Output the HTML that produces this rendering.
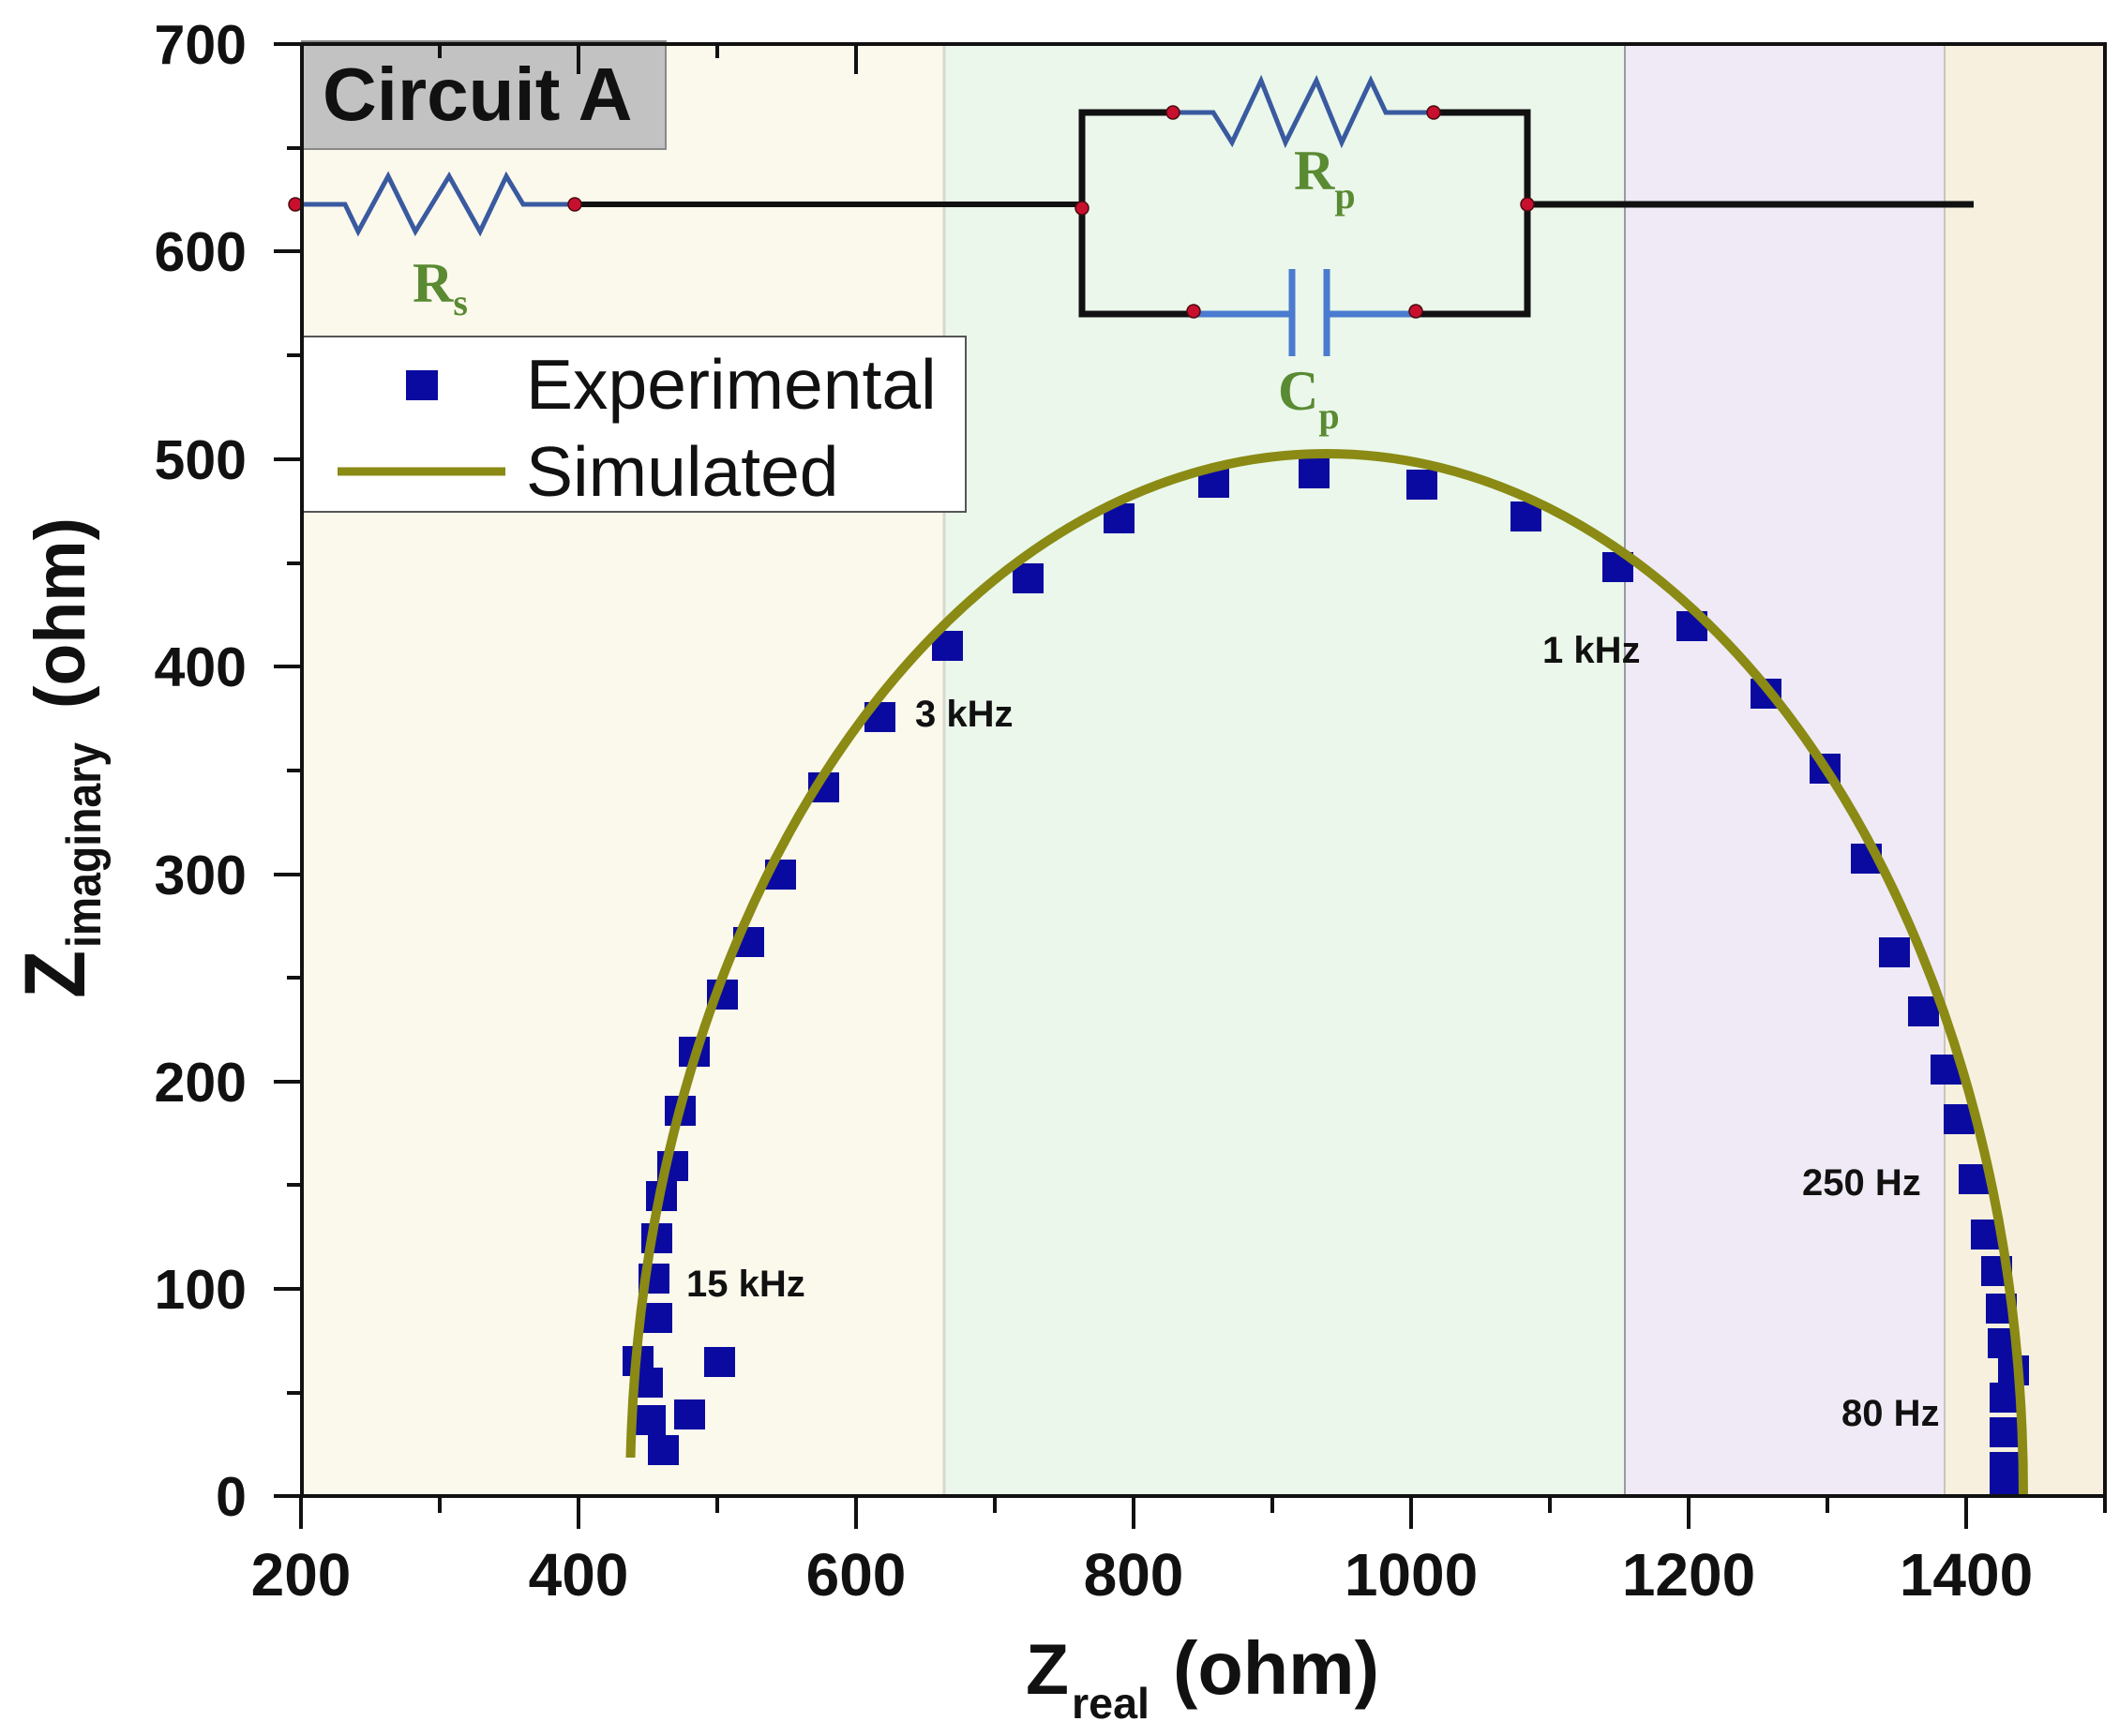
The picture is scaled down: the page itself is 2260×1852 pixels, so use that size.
<!DOCTYPE html>
<html><head><meta charset="utf-8"><style>
html,body{margin:0;padding:0;background:#fff;}
svg{display:block;}
</style></head><body>
<svg width="2260" height="1852" viewBox="0 0 2260 1852" xmlns="http://www.w3.org/2000/svg" font-family="'Liberation Sans', Arial, sans-serif">
<defs>
<clipPath id="cc"><rect x="0" y="0" width="1000" height="1555"/><rect x="1000" y="0" width="1260" height="1600"/></clipPath>
</defs>
<rect x="0" y="0" width="2260" height="1852" fill="#ffffff"/>
<rect x="322" y="47" width="685" height="1549" fill="#fbf8ec"/>
<rect x="1007" y="47" width="726" height="1549" fill="#eaf7ea"/>
<rect x="1733" y="47" width="341" height="1549" fill="#efeaf6"/>
<rect x="2074" y="47" width="171" height="1549" fill="#f7f0de"/>
<line x1="1007" y1="47" x2="1007" y2="1596" stroke="#d8d8d0" stroke-width="3"/>
<line x1="1733" y1="47" x2="1733" y2="1596" stroke="#9a9aa0" stroke-width="2"/>
<line x1="2074" y1="47" x2="2074" y2="1596" stroke="#c8c4c0" stroke-width="2"/>

<rect x="322" y="44" width="388" height="115" fill="#c2c2c2" stroke="#888" stroke-width="2"/>
<text x="344" y="128" font-size="80" font-weight="bold" fill="#111">Circuit A</text>

<g fill="none" stroke-linejoin="miter">
<line x1="613" y1="218" x2="1154" y2="218" stroke="#111" stroke-width="6"/>
<polyline points="1154,218 1154,120 1251,120" stroke="#111" stroke-width="7"/>
<polyline points="1529,120 1629,120 1629,335 1510,335" stroke="#111" stroke-width="7"/>
<polyline points="1154,218 1154,335 1273,335" stroke="#111" stroke-width="7"/>
<line x1="1629" y1="218" x2="2105" y2="218" stroke="#111" stroke-width="7"/>
<polyline points="315,218 368,218 382,247 414,188 443,247 479,188 512,247 540,188 558,218 613,218" stroke="#3a5aa0" stroke-width="5"/>
<polyline points="1251,120 1294,120 1314,152 1345,86 1371,152 1404,86 1431,152 1462,86 1478,120 1529,120" stroke="#3a5aa0" stroke-width="5"/>
<line x1="1273" y1="335" x2="1378" y2="335" stroke="#4a7bd0" stroke-width="7"/>
<line x1="1415" y1="335" x2="1510" y2="335" stroke="#4a7bd0" stroke-width="7"/>
<line x1="1378" y1="287" x2="1378" y2="380" stroke="#4a7bd0" stroke-width="7"/>
<line x1="1415" y1="287" x2="1415" y2="380" stroke="#4a7bd0" stroke-width="7"/>
</g>
<g fill="#c8102e" stroke="#4a0a10" stroke-width="1.5">
<circle cx="315" cy="218" r="7"/><circle cx="613" cy="218" r="7"/>
<circle cx="1154" cy="222" r="7"/><circle cx="1629" cy="218" r="7"/>
<circle cx="1251" cy="120" r="7"/><circle cx="1529" cy="120" r="7"/>
<circle cx="1273" cy="332" r="7"/><circle cx="1510" cy="332" r="7"/>
</g>
<g font-family="'Liberation Serif', serif" font-weight="bold" fill="#5a8a32">
<text x="440" y="322" font-size="60">R<tspan font-size="40" dy="14">s</tspan></text>
<text x="1380" y="202" font-size="60">R<tspan font-size="40" dy="20">p</tspan></text>
<text x="1363" y="437" font-size="60">C<tspan font-size="40" dy="20">p</tspan></text>
</g>

<rect x="322" y="359" width="708" height="187" fill="#ffffff" stroke="#555" stroke-width="2"/>
<rect x="433" y="395" width="34" height="32" fill="#0a0aa0"/>
<line x1="360" y1="503" x2="539" y2="503" stroke="#8a8a14" stroke-width="9"/>
<text x="561" y="436" font-size="75" fill="#111">Experimental</text>
<text x="561" y="529" font-size="75" fill="#111">Simulated</text>

<g fill="#0a0aa0">
<rect x="691" y="1531" width="33" height="32"/><rect x="677" y="1499" width="33" height="32"/>
<rect x="719" y="1493" width="33" height="32"/><rect x="664" y="1436" width="33" height="32"/>
<rect x="674" y="1459" width="33" height="32"/><rect x="751" y="1437" width="33" height="32"/>
<rect x="684" y="1390" width="33" height="32"/><rect x="681" y="1348" width="33" height="32"/>
<rect x="684" y="1305" width="33" height="32"/><rect x="689" y="1260" width="33" height="32"/>
<rect x="701" y="1228" width="33" height="32"/><rect x="709" y="1169" width="33" height="32"/>
<rect x="724" y="1106" width="33" height="32"/><rect x="754" y="1045" width="33" height="32"/>
<rect x="782" y="989" width="33" height="32"/><rect x="816" y="917" width="33" height="32"/>
<rect x="862" y="824" width="33" height="32"/><rect x="922" y="749" width="33" height="32"/>
<rect x="994" y="673" width="33" height="32"/><rect x="1080" y="601" width="33" height="32"/>
<rect x="1177" y="537" width="33" height="32"/><rect x="1278" y="499" width="33" height="32"/>
<rect x="1385" y="489" width="33" height="32"/><rect x="1500" y="501" width="33" height="32"/>
<rect x="1611" y="535" width="33" height="32"/><rect x="1709" y="589" width="33" height="32"/>
<rect x="1788" y="652" width="33" height="32"/><rect x="1867" y="724" width="33" height="32"/>
<rect x="1930" y="804" width="33" height="32"/><rect x="1974" y="900" width="33" height="32"/>
<rect x="2004" y="1000" width="33" height="32"/><rect x="2035" y="1063" width="33" height="32"/>
<rect x="2059" y="1125" width="33" height="32"/><rect x="2073" y="1178" width="33" height="32"/>
<rect x="2089" y="1242" width="33" height="32"/><rect x="2102" y="1301" width="33" height="32"/>
<rect x="2113" y="1340" width="33" height="32"/><rect x="2118" y="1380" width="33" height="32"/>
<rect x="2120" y="1417" width="33" height="32"/><rect x="2131" y="1446" width="33" height="32"/>
<rect x="2122" y="1475" width="33" height="32"/><rect x="2122" y="1512" width="33" height="32"/>
<rect x="2122" y="1549" width="33" height="32"/><rect x="2122" y="1566" width="33" height="30"/>
</g>
<path d="M672,1596 A743,1112 0 0 1 2158,1596" fill="none" stroke="#8a8a14" stroke-width="10" clip-path="url(#cc)"/>

<g font-size="40" font-weight="bold" fill="#111">
<text x="732" y="1383">15 kHz</text>
<text x="976" y="775">3 kHz</text>
<text x="1645" y="707">1 kHz</text>
<text x="1922" y="1275">250 Hz</text>
<text x="1964" y="1521">80 Hz</text>
</g>

<rect x="322" y="47" width="1923" height="1549" fill="none" stroke="#111" stroke-width="4"/>
<g stroke="#111" stroke-width="4">
<line x1="321" y1="1596" x2="321" y2="1631"/><line x1="617" y1="1596" x2="617" y2="1631"/>
<line x1="913" y1="1596" x2="913" y2="1631"/><line x1="1209" y1="1596" x2="1209" y2="1631"/>
<line x1="1505" y1="1596" x2="1505" y2="1631"/><line x1="1801" y1="1596" x2="1801" y2="1631"/>
<line x1="2097" y1="1596" x2="2097" y2="1631"/>
<line x1="469" y1="1596" x2="469" y2="1614"/><line x1="765" y1="1596" x2="765" y2="1614"/>
<line x1="1061" y1="1596" x2="1061" y2="1614"/><line x1="1357" y1="1596" x2="1357" y2="1614"/>
<line x1="1653" y1="1596" x2="1653" y2="1614"/><line x1="1949" y1="1596" x2="1949" y2="1614"/>
<line x1="2245" y1="1596" x2="2245" y2="1614"/>
<line x1="617" y1="47" x2="617" y2="79"/><line x1="913" y1="47" x2="913" y2="79"/>
<line x1="469" y1="47" x2="469" y2="62"/><line x1="765" y1="47" x2="765" y2="62"/>
<line x1="292" y1="47" x2="322" y2="47"/><line x1="292" y1="268" x2="322" y2="268"/>
<line x1="292" y1="490" x2="322" y2="490"/><line x1="292" y1="711" x2="322" y2="711"/>
<line x1="292" y1="933" x2="322" y2="933"/><line x1="292" y1="1154" x2="322" y2="1154"/>
<line x1="292" y1="1375" x2="322" y2="1375"/><line x1="292" y1="1596" x2="322" y2="1596"/>
<line x1="306" y1="158" x2="322" y2="158"/><line x1="306" y1="379" x2="322" y2="379"/>
<line x1="306" y1="601" x2="322" y2="601"/><line x1="306" y1="822" x2="322" y2="822"/>
<line x1="306" y1="1043" x2="322" y2="1043"/><line x1="306" y1="1264" x2="322" y2="1264"/>
<line x1="306" y1="1486" x2="322" y2="1486"/>
</g>
<g font-size="59" font-weight="bold" fill="#111" text-anchor="end">
<text x="263" y="68">700</text><text x="263" y="289">600</text>
<text x="263" y="511">500</text><text x="263" y="732">400</text>
<text x="263" y="954">300</text><text x="263" y="1175">200</text>
<text x="263" y="1396">100</text><text x="263" y="1617">0</text>
</g>
<g font-size="64" font-weight="bold" fill="#111" text-anchor="middle">
<text x="321" y="1702">200</text><text x="617" y="1702">400</text>
<text x="913" y="1702">600</text><text x="1209" y="1702">800</text>
<text x="1505" y="1702">1000</text><text x="1801" y="1702">1200</text>
<text x="2097" y="1702">1400</text>
</g>
<g font-weight="bold" fill="#111">
<text x="1094" y="1807" font-size="76" textLength="46" lengthAdjust="spacingAndGlyphs">Z</text>
<text x="1143" y="1833" font-size="46" textLength="83" lengthAdjust="spacingAndGlyphs">real</text>
<text x="1251" y="1807" font-size="80" textLength="220" lengthAdjust="spacingAndGlyphs">(ohm)</text>
<g transform="rotate(-90)">
<text x="-1065" y="90" font-size="92" textLength="51" lengthAdjust="spacingAndGlyphs">Z</text>
<text x="-1011" y="107" font-size="52" textLength="219" lengthAdjust="spacingAndGlyphs">imaginary</text>
<text x="-756" y="90" font-size="76" textLength="204" lengthAdjust="spacingAndGlyphs">(ohm)</text>
</g>
</g>
</svg>
</body></html>
